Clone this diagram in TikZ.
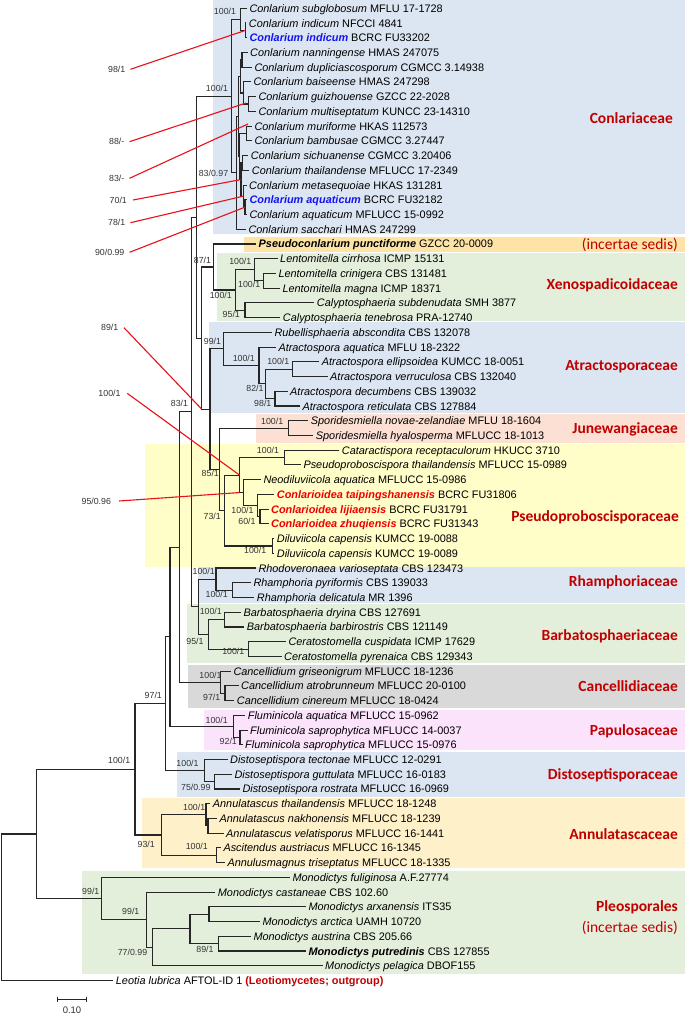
\documentclass[tikz,border=0pt]{standalone}
\usepackage{fontspec}
\setmainfont{Liberation Sans}
\newfontfamily\famfont{Carlito}
\usetikzlibrary{calc}
\definecolor{cblue}{HTML}{DCE6F2}
\definecolor{cgreen}{HTML}{E4EFDB}
\definecolor{corange}{HTML}{FDE4A6}
\definecolor{csalmon}{HTML}{FBE0D3}
\definecolor{cyellow}{HTML}{FFFDC8}
\definecolor{cgray}{HTML}{D9D9D9}
\definecolor{cpink}{HTML}{FCE3FC}
\definecolor{cann}{HTML}{FEF0C8}
\definecolor{famred}{HTML}{C00000}
\definecolor{hired}{HTML}{EE0000}
\definecolor{hiblue}{HTML}{1414F0}
\definecolor{lnred}{HTML}{E8101A}
\newcommand\bfit[1]{\textbf{\textit{#1}}}
\newcommand\mkleaf[4]{%
  \coordinate (#1) at ({#2-2.5},{8.3+14.73*#3});
  \node[taxon] (#1t) at (#2,{12.3+14.73*#3}) {#4};}
\begin{document}
\begin{tikzpicture}[x=1pt,y=-1pt,
  taxon/.style={anchor=base west, inner sep=0pt, font=\fontsize{10.9}{12}\selectfont},
  sup/.style={inner sep=0pt, text=black!80, font=\fontsize{8.8}{10}\selectfont},
  br/.style={line width=1.1pt, draw=black!85},
  rl/.style={line width=1.1pt, draw=lnred},
  fam/.style={anchor=base east, inner sep=0pt, text=famred, font=\fontsize{15.5}{17}\selectfont\famfont\bfseries},
  famreg/.style={anchor=base east, inner sep=0pt, text=famred, font=\fontsize{15.5}{17}\selectfont\famfont}]
\useasboundingbox (0,0) rectangle (685,1016);
\fill[white] (0,0) rectangle (685,1016);
% backgrounds
\fill[cblue]   (213.3,0)     rectangle (685,234.5);
\fill[corange] (244.3,236.5) rectangle (685,251.5);
\fill[cgreen]  (216.7,252.5) rectangle (685,320.5);
\fill[cblue]   (209.3,322)   rectangle (685,412.5);
\fill[csalmon] (256,413.5)   rectangle (685,443);
\fill[cyellow] (145,444)     rectangle (685,566.5);
\fill[cblue]   (198.3,567)   rectangle (685,603);
\fill[cgreen]  (187.3,604)   rectangle (685,663);
\fill[cgray]   (188.3,664.5) rectangle (685,708);
\fill[cpink]   (204,710)     rectangle (685,750);
\fill[cblue]   (176.7,752)   rectangle (685,796.5);
\fill[cann]    (142.3,797.5) rectangle (685,868);
\fill[cgreen]  (82.3,871)    rectangle (685,974);
% leaves
\mkleaf{l0}{249.3}{0}{\textit{Conlarium subglobosum} MFLU 17-1728}
\mkleaf{l1}{248.7}{1}{\textit{Conlarium indicum} NFCCI 4841}
\mkleaf{l2}{249.3}{2}{\textcolor{hiblue}{\bfit{Conlarium indicum}} BCRC FU33202}
\mkleaf{l3}{250}{3}{\textit{Conlarium nanningense} HMAS 247075}
\mkleaf{l4}{254.3}{4}{\textit{Conlarium dupliciascosporum} CGMCC 3.14938}
\mkleaf{l5}{253.3}{5}{\textit{Conlarium baiseense} HMAS 247298}
\mkleaf{l6}{258.3}{6}{\textit{Conlarium guizhouense} GZCC 22-2028}
\mkleaf{l7}{258.3}{7}{\textit{Conlarium multiseptatum} KUNCC 23-14310}
\mkleaf{l8}{254.3}{8}{\textit{Conlarium muriforme} HKAS 112573}
\mkleaf{l9}{254.3}{9}{\textit{Conlarium bambusae} CGMCC 3.27447}
\mkleaf{l10}{250.7}{10}{\textit{Conlarium sichuanense} CGMCC 3.20406}
\mkleaf{l11}{251.7}{11}{\textit{Conlarium thailandense} MFLUCC 17-2349}
\mkleaf{l12}{249}{12}{\textit{Conlarium metasequoiae} HKAS 131281}
\mkleaf{l13}{249.3}{13}{\textcolor{hiblue}{\bfit{Conlarium aquaticum}} BCRC FU32182}
\mkleaf{l14}{249.3}{14}{\textit{Conlarium aquaticum} MFLUCC 15-0992}
\mkleaf{l15}{248.3}{15}{\textit{Conlarium sacchari} HMAS 247299}
\mkleaf{l16}{258.5}{16}{\bfit{Pseudoconlarium punctiforme} GZCC 20-0009}
\mkleaf{l17}{280}{17}{\textit{Lentomitella cirrhosa} ICMP 15131}
\mkleaf{l18}{278.3}{18}{\textit{Lentomitella crinigera} CBS 131481}
\mkleaf{l19}{282.3}{19}{\textit{Lentomitella magna} ICMP 18371}
\mkleaf{l20}{316.7}{20}{\textit{Calyptosphaeria subdenudata} SMH 3877}
\mkleaf{l21}{282.7}{21}{\textit{Calyptosphaeria tenebrosa} PRA-12740}
\mkleaf{l22}{274.3}{22}{\textit{Rubellisphaeria abscondita} CBS 132078}
\mkleaf{l23}{278.3}{23}{\textit{Atractospora aquatica} MFLU 18-2322}
\mkleaf{l24}{321.7}{24}{\textit{Atractospora ellipsoidea} KUMCC 18-0051}
\mkleaf{l25}{330}{25}{\textit{Atractospora verruculosa} CBS 132040}
\mkleaf{l26}{290}{26}{\textit{Atractospora decumbens} CBS 139032}
\mkleaf{l27}{302.3}{27}{\textit{Atractospora reticulata} CBS 127884}
\mkleaf{l28}{310.7}{28}{\textit{Sporidesmiella novae-zelandiae} MFLU 18-1604}
\mkleaf{l29}{315.7}{29}{\textit{Sporidesmiella hyalosperma} MFLUCC 18-1013}
\mkleaf{l30}{341.7}{30}{\textit{Cataractispora receptaculorum} HKUCC 3710}
\mkleaf{l31}{303.3}{31}{\textit{Pseudoproboscispora thailandensis} MFLUCC 15-0989}
\mkleaf{l32}{263.3}{32}{\textit{Neodiluviicola aquatica} MFLUCC 15-0986}
\mkleaf{l33}{276.7}{33}{\textcolor{hired}{\bfit{Conlarioidea taipingshanensis}} BCRC FU31806}
\mkleaf{l34}{271}{34}{\textcolor{hired}{\bfit{Conlarioidea lijiaensis}} BCRC FU31791}
\mkleaf{l35}{271}{35}{\textcolor{hired}{\bfit{Conlarioidea zhuqiensis}} BCRC FU31343}
\mkleaf{l36}{276.7}{36}{\textit{Diluviicola capensis} KUMCC 19-0088}
\mkleaf{l37}{276.7}{37}{\textit{Diluviicola capensis} KUMCC 19-0089}
\mkleaf{l38}{258.3}{38}{\textit{Rhodoveronaea varioseptata} CBS 123473}
\mkleaf{l39}{253.3}{39}{\textit{Rhamphoria pyriformis} CBS 139033}
\mkleaf{l40}{256.7}{40}{\textit{Rhamphoria delicatula} MR 1396}
\mkleaf{l41}{243.3}{41}{\textit{Barbatosphaeria dryina} CBS 127691}
\mkleaf{l42}{246.7}{42}{\textit{Barbatosphaeria barbirostris} CBS 121149}
\mkleaf{l43}{288.3}{43}{\textit{Ceratostomella cuspidata} ICMP 17629}
\mkleaf{l44}{284}{44}{\textit{Ceratostomella pyrenaica} CBS 129343}
\mkleaf{l45}{233.3}{45}{\textit{Cancellidium griseonigrum} MFLUCC 18-1236}
\mkleaf{l46}{241}{46}{\textit{Cancellidium atrobrunneum} MFLUCC 20-0100}
\mkleaf{l47}{236.7}{47}{\textit{Cancellidium cinereum} MFLUCC 18-0424}
\mkleaf{l48}{247.7}{48}{\textit{Fluminicola aquatica} MFLUCC 15-0962}
\mkleaf{l49}{250}{49}{\textit{Fluminicola saprophytica} MFLUCC 14-0037}
\mkleaf{l50}{245}{50}{\textit{Fluminicola saprophytica} MFLUCC 15-0976}
\mkleaf{l51}{230}{51}{\textit{Distoseptispora tectonae} MFLUCC 12-0291}
\mkleaf{l52}{234.3}{52}{\textit{Distoseptispora guttulata} MFLUCC 16-0183}
\mkleaf{l53}{242.3}{53}{\textit{Distoseptispora rostrata} MFLUCC 16-0969}
\mkleaf{l54}{212.7}{54}{\textit{Annulatascus thailandensis} MFLUCC 18-1248}
\mkleaf{l55}{219.3}{55}{\textit{Annulatascus nakhonensis} MFLUCC 18-1239}
\mkleaf{l56}{226}{56}{\textit{Annulatascus velatisporus} MFLUCC 16-1441}
\mkleaf{l57}{223.3}{57}{\textit{Ascitendus austriacus} MFLUCC 16-1345}
\mkleaf{l58}{227.3}{58}{\textit{Annulusmagnus triseptatus} MFLUCC 18-1335}
\mkleaf{l59}{292.3}{59}{\textit{Monodictys fuliginosa} A.F.27774}
\mkleaf{l60}{217.7}{60}{\textit{Monodictys castaneae} CBS 102.60}
\mkleaf{l61}{308.3}{61}{\textit{Monodictys arxanensis} ITS35}
\mkleaf{l62}{262.3}{62}{\textit{Monodictys arctica} UAMH 10720}
\mkleaf{l63}{253.3}{63}{\textit{Monodictys austrina} CBS 205.66}
\mkleaf{l64}{308.3}{64}{\bfit{Monodictys putredinis} CBS 127855}
\mkleaf{l65}{325}{65}{\textit{Monodictys pelagica} DBOF155}
\mkleaf{l66}{115.7}{66}{\textit{Leotia lubrica} AFTOL-ID 1 \textcolor{famred}{\textbf{(Leotiomycetes; outgroup)}}}
% internal nodes
\coordinate (cI) at (245.3,30.4);
\coordinate (cS) at (240.7,19.35);
\coordinate (P1) at (242,59.86);
\coordinate (P2b) at (248.3,104.05);
\coordinate (P2) at (243.3,93);
\coordinate (P12) at (240.3,76.43);
\coordinate (P3) at (246.7,133.5);
\coordinate (B1) at (242.3,162.97);
\coordinate (B2) at (245,207.16);
\coordinate (B3) at (243.5,196.11);
\coordinate (B) at (241,179.54);
\coordinate (PB) at (239.6,156.52);
\coordinate (N2) at (238.3,116.48);
\coordinate (N1) at (236.3,172.87);
\coordinate (cC) at (231.7,96.11);
\coordinate (L2) at (263.3,280.8);
\coordinate (L1) at (254.3,269.76);
\coordinate (Cal) at (245,310.27);
\coordinate (Xe) at (235.3,290.01);
\coordinate (P87) at (213.3,267);
\coordinate (A1) at (292.7,369.19);
\coordinate (A2) at (275,398.65);
\coordinate (A82) at (265.7,383.92);
\coordinate (A100) at (259,365.5);
\coordinate (A99) at (223.3,348.93);
\coordinate (Jw) at (288.3,428.1);
\coordinate (Ca) at (284.3,457.57);
\coordinate (Co2) at (260,516.49);
\coordinate (Co) at (257.3,505.44);
\coordinate (Nd) at (243.3,492.55);
\coordinate (Pp1) at (239.5,475.06);
\coordinate (Di) at (272.7,545.95);
\coordinate (Pp) at (224.3,510.5);
\coordinate (P85) at (219.3,469.3);
\coordinate (P89) at (210,409.12);
\coordinate (Q1) at (201.7,338.06);
\coordinate (Q2) at (196.7,217.09);
\coordinate (Rh2) at (232.7,590.14);
\coordinate (Rh) at (216,579.09);
\coordinate (Bb1) at (224.3,619.6);
\coordinate (Bb2) at (248.3,649.06);
\coordinate (Bb) at (208.3,634.33);
\coordinate (RB) at (198.3,606.71);
\coordinate (P83) at (191.7,411.9);
\coordinate (Cn2) at (225,693.25);
\coordinate (Cn) at (220.7,682.2);
\coordinate (S1) at (179.5,547.05);
\coordinate (Fl2) at (240,737.44);
\coordinate (Fl) at (233.3,726.39);
\coordinate (S2) at (170,636.72);
\coordinate (Ds2) at (214.3,781.63);
\coordinate (Ds) at (204.3,770.58);
\coordinate (S97) at (165.7,703.65);
\coordinate (An2) at (208,825.82);
\coordinate (An1) at (206,814.77);
\coordinate (As) at (216.7,855.28);
\coordinate (An) at (161.7,835.03);
\coordinate (So) at (135,769.34);
\coordinate (M1) at (209,914.2);
\coordinate (M2) at (218.3,943.66);
\coordinate (M12) at (190,928.93);
\coordinate (M77) at (152.7,947.34);
\coordinate (M99b) at (146.7,919.72);
\coordinate (M99a) at (101.7,898.55);
\coordinate (In) at (36.7,833.95);
\coordinate (Root) at (1.5,907.2);
% branches
\draw[br] (l1) -| (cI) |- (l2);
\draw[br] (l0) -| (cS) |- (cI);
\draw[br] (l3) -| (P1) |- (l4);
\draw[br] (l6) -| (P2b) |- (l7);
\draw[br] (l5) -| (P2) |- (P2b);
\draw[br] (P1) -| (P12) |- (P2);
\draw[br] (l8) -| (P3) |- (l9);
\draw[br] (l10) -| (B1) |- (l11);
\draw[br] (l13) -| (B2) |- (l14);
\draw[br] (l12) -| (B3) |- (B2);
\draw[br] (B1) -| (B) |- (B3);
\draw[br] (P3) -| (PB) |- (B);
\draw[br] (P12) -| (N2) |- (PB);
\draw[br] (N2) -| (N1) |- (l15);
\draw[br] (cS) -| (cC) |- (N1);
\draw[br] (l18) -| (L2) |- (l19);
\draw[br] (l17) -| (L1) |- (L2);
\draw[br] (l20) -| (Cal) |- (l21);
\draw[br] (L1) -| (Xe) |- (Cal);
\draw[br] (l16) -| (P87) |- (Xe);
\draw[br] (l24) -| (A1) |- (l25);
\draw[br] (l26) -| (A2) |- (l27);
\draw[br] (A1) -| (A82) |- (A2);
\draw[br] (l23) -| (A100) |- (A82);
\draw[br] (l22) -| (A99) |- (A100);
\draw[br] (l28) -| (Jw) |- (l29);
\draw[br] (l30) -| (Ca) |- (l31);
\draw[br] (l34) -| (Co2) |- (l35);
\draw[br] (l33) -| (Co) |- (Co2);
\draw[br] (l32) -| (Nd) |- (Co);
\draw[br] (Ca) -| (Pp1) |- (Nd);
\draw[br] (l36) -| (Di) |- (l37);
\draw[br] (Pp1) -| (Pp) |- (Di);
\draw[br] (Jw) -| (P85) |- (Pp);
\draw[br] (A99) -| (P89) |- (P85);
\draw[br] (P87) -| (Q1) |- (P89);
\draw[br] (cC) -| (Q2) |- (Q1);
\draw[br] (l39) -| (Rh2) |- (l40);
\draw[br] (l38) -| (Rh) |- (Rh2);
\draw[br] (l41) -| (Bb1) |- (l42);
\draw[br] (l43) -| (Bb2) |- (l44);
\draw[br] (Bb1) -| (Bb) |- (Bb2);
\draw[br] (Rh) -| (RB) |- (Bb);
\draw[br] (Q2) -| (P83) |- (RB);
\draw[br] (l46) -| (Cn2) |- (l47);
\draw[br] (l45) -| (Cn) |- (Cn2);
\draw[br] (P83) -| (S1) |- (Cn);
\draw[br] (l49) -| (Fl2) |- (l50);
\draw[br] (l48) -| (Fl) |- (Fl2);
\draw[br] (S1) -| (S2) |- (Fl);
\draw[br] (l52) -| (Ds2) |- (l53);
\draw[br] (l51) -| (Ds) |- (Ds2);
\draw[br] (S2) -| (S97) |- (Ds);
\draw[br] (l55) -| (An2) |- (l56);
\draw[br] (l54) -| (An1) |- (An2);
\draw[br] (l57) -| (As) |- (l58);
\draw[br] (An1) -| (An) |- (As);
\draw[br] (S97) -| (So) |- (An);
\draw[br] (l61) -| (M1) |- (l62);
\draw[br] (l63) -| (M2) |- (l64);
\draw[br] (M1) -| (M12) |- (M2);
\draw[br] (M12) -| (M77) |- (l65);
\draw[br] (l60) -| (M99b) |- (M77);
\draw[br] (l59) -| (M99a) |- (M99b);
\draw[br] (So) -| (In) |- (M99a);
\draw[br] (In) -| (Root) |- (l66);
% support values
\node[sup] (s1) at (225,11.7) {100/1};
\node[sup] (s2) at (217,88.3) {100/1};
\node[sup] (s3) at (213.5,173.3) {83/0.97};
\node[sup] (s4) at (202.5,260) {87/1};
\node[sup] (s5) at (240.3,261.7) {100/1};
\node[sup] (s6) at (249.2,284) {100/1};
\node[sup] (s7) at (220.8,295.7) {100/1};
\node[sup] (s8) at (231.3,314) {95/1};
\node[sup] (s9) at (212.5,341.7) {99/1};
\node[sup] (s10) at (243.8,358.3) {100/1};
\node[sup] (s11) at (278.3,361) {100/1};
\node[sup] (s12) at (255,388.3) {82/1};
\node[sup] (s13) at (262.8,403.3) {98/1};
\node[sup] (s14) at (179.5,403.3) {83/1};
\node[sup] (s15) at (272.2,421) {100/1};
\node[sup] (s16) at (268,450) {100/1};
\node[sup] (s17) at (210.3,473.3) {85/1};
\node[sup] (s18) at (242.5,510.7) {100/1};
\node[sup] (s19) at (247,521) {60/1};
\node[sup] (s20) at (212.2,516) {73/1};
\node[sup] (s21) at (255.2,550) {100/1};
\node[sup] (s22) at (203.7,571) {100/1};
\node[sup] (s23) at (216.7,594.3) {100/1};
\node[sup] (s24) at (210.8,611.7) {100/1};
\node[sup] (s25) at (195,641.7) {95/1};
\node[sup] (s26) at (233.3,651.7) {100/1};
\node[sup] (s27) at (210.5,675) {100/1};
\node[sup] (s28) at (211.7,697.7) {97/1};
\node[sup] (s29) at (216.7,720) {100/1};
\node[sup] (s30) at (228.3,741.7) {92/1};
\node[sup] (s31) at (187.5,763.3) {100/1};
\node[sup] (s32) at (195.8,787.7) {75/0.99};
\node[sup] (s33) at (194.2,807.7) {100/1};
\node[sup] (s34) at (146.2,844.3) {93/1};
\node[sup] (s35) at (196.8,846.7) {100/1};
\node[sup] (s36) at (153.3,695) {97/1};
\node[sup] (s37) at (119.2,760) {100/1};
\node[sup] (s38) at (90.8,891.7) {99/1};
\node[sup] (s39) at (130.8,911.7) {99/1};
\node[sup] (s40) at (132.5,952.3) {77/0.99};
\node[sup] (s41) at (205,949) {89/1};
% callout labels and red lines
\coordinate (e2) at (246,103);
\coordinate (e3) at (248,124);
\node[sup] (r1) at (116.7,69.3) {98/1};
\node[sup] (r2) at (116.7,141.7) {88/-};
\node[sup] (r3) at (116.7,178.3) {83/-};
\node[sup] (r4) at (118.3,200) {70/1};
\node[sup] (r5) at (116.7,222.7) {78/1};
\node[sup] (r6) at (109.7,252.3) {90/0.99};
\node[sup] (r7) at (109.7,327.7) {89/1};
\node[sup] (r8) at (109.5,393.3) {100/1};
\node[sup] (r9) at (96.3,501) {95/0.96};
\draw[rl] ([xshift=5pt]r1.east) -- (cI);
\draw[rl] ([xshift=5pt]r2.east) -- (e2);
\draw[rl] ([xshift=5pt]r3.east) -- (e3);
\draw[rl] ([xshift=6pt]r4.east) -- (B);
\draw[rl] ([xshift=5pt]r5.east) -- (B3);
\draw[rl] ([xshift=5pt]r6.east) -- (B2);
\draw[rl] ([xshift=5.5pt]r7.east) -- (Q1 |- P89);
\draw[rl] ([xshift=6.5pt]r8.east) -- (Pp1);
\draw[rl] ([xshift=8pt]r9.east) -- (Pp1 |- Nd);
% family labels
\node[fam] (f1) at (673,123.5) {Conlariaceae};
\node[famreg] (f2) at (678,249.3) {(incertae sedis)};
\node[fam] (f3) at (678,289.3) {Xenospadicoidaceae};
\node[fam] (f4) at (678,370.3) {Atractosporaceae};
\node[fam] (f5) at (678,433.3) {Junewangiaceae};
\node[fam] (f6) at (679,521.3) {Pseudoproboscisporaceae};
\node[fam] (f7) at (678,586.3) {Rhamphoriaceae};
\node[fam] (f8) at (678,640.3) {Barbatosphaeriaceae};
\node[fam] (f9) at (678,691.3) {Cancellidiaceae};
\node[fam] (f10) at (678,735.3) {Papulosaceae};
\node[fam] (f11) at (678,779.3) {Distoseptisporaceae};
\node[fam] (f12) at (678,839.3) {Annulatascaceae};
\node[fam] (f13) at (678,911.3) {Pleosporales};
\node[famreg] (f14) at (678,932.3) {(incertae sedis)};
% scale bar
\coordinate (sbL) at (57.7,999);
\coordinate (sbR) at (86.7,999);
\draw[br, line width=0.9pt] (sbL) -- (sbR);
\draw[br, line width=0.9pt] ([yshift=2.5pt]sbL) -- ([yshift=-2.5pt]sbL);
\draw[br, line width=0.9pt] ([yshift=2.5pt]sbR) -- ([yshift=-2.5pt]sbR);
\node[sup, font=\fontsize{9.5}{11}\selectfont] (sbT) at (72,1010) {0.10};
\end{tikzpicture}
\end{document}
